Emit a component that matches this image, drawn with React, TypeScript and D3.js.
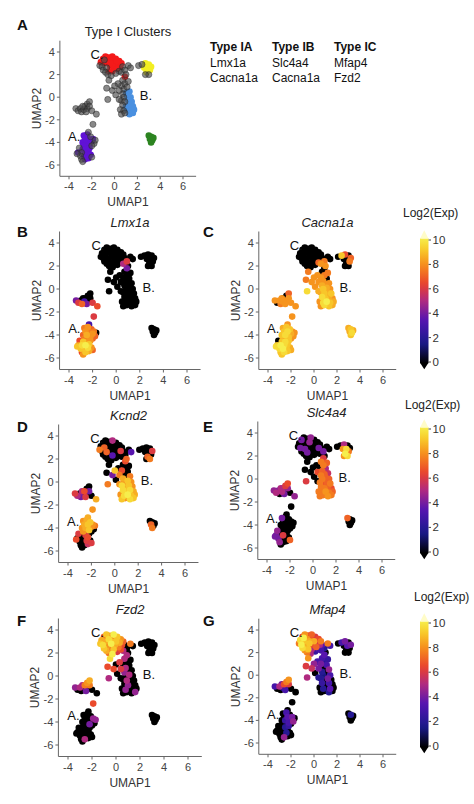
import React from "react";
import * as d3 from "d3";

// ---------- DATA ----------
// UMAP coordinates of the cells (UMAP1, UMAP2)
const cells: [number, number][] = [
  // cluster C (0-37)
  [-1.3, 2.8], [-1.2, 3.1], [-1.0, 3.4], [-0.8, 3.6], [-0.5, 3.5], [-0.2, 3.6], [0.1, 3.4], [0.4, 3.2], [0.6, 3.0], [-1.1, 2.7],
  [-0.9, 3.0], [-0.6, 3.2], [-0.3, 3.2], [0.0, 3.0], [0.3, 2.9], [0.5, 2.7], [-1.0, 2.4], [-0.7, 2.6], [-0.4, 2.8], [-0.1, 2.7],
  [0.2, 2.5], [0.4, 2.3], [-0.8, 2.2], [-0.5, 2.3], [-0.2, 2.3], [0.1, 2.1], [-0.6, 2.0], [-0.3, 1.9], [-0.9, 3.3], [0.7, 2.7],
  [0.6, 2.2], [0.9, 2.4], [1.0, 2.0], [0.9, 1.8], [1.2, 2.8], [1.4, 2.6], [-0.4, 3.0], [0.2, 3.2],
  // small cluster top right (38-48)
  [2.1, 2.8], [2.4, 2.9], [2.7, 3.0], [3.0, 2.9], [2.6, 2.6], [2.9, 2.6], [3.1, 2.4], [2.8, 2.2], [3.0, 2.0], [2.7, 2.0], [3.2, 2.7],
  // cluster B (49-78)
  [0.7, 1.5], [0.6, 1.0], [0.9, 1.2], [0.8, 0.7], [1.1, 0.9], [0.7, 0.3], [1.0, 0.4], [1.3, 0.5], [0.8, 0.0], [1.1, 0.1],
  [1.4, 0.0], [0.6, -0.3], [0.9, -0.4], [1.2, -0.3], [1.5, -0.4], [0.7, -0.7], [1.0, -0.8], [1.3, -0.7], [1.6, -0.8], [0.5, -1.1],
  [0.8, -1.2], [1.1, -1.1], [1.4, -1.2], [1.7, -1.1], [0.6, -1.5], [0.9, -1.4], [1.3, -1.5], [1.6, -1.4], [1.2, 1.4], [0.4, 0.6],
  // scattered between C and B (79-86)
  [-0.5, 1.5], [-0.7, 0.8], [-0.2, 0.6], [0.1, 0.2], [-0.6, -0.2], [0.3, 1.2], [0.0, 1.0], [0.4, -0.2],
  // left middle cluster (87-98)
  [-3.4, -1.0], [-3.2, -1.2], [-3.0, -1.0], [-2.9, -1.3], [-2.7, -1.1], [-2.6, -0.8], [-2.4, -1.0], [-2.4, -0.6], [-2.2, -0.4], [-2.2, -0.8],
  [-2.0, -1.2], [-2.8, -0.8],
  // stragglers (99-102)
  [-1.6, -1.5], [-1.9, -2.4], [-2.3, -3.1], [-2.5, -1.3],
  // cluster A (103-134)
  [-2.7, -3.4], [-2.4, -3.3], [-2.1, -3.5], [-1.9, -3.7], [-2.6, -3.7], [-2.3, -3.7], [-2.0, -3.9], [-1.8, -4.1], [-2.8, -4.0], [-2.5, -4.0],
  [-2.2, -4.2], [-2.7, -4.3], [-2.0, -4.3], [-1.7, -3.8],
  [-3.1, -4.5], [-2.8, -4.6], [-2.5, -4.6], [-3.2, -4.9], [-2.9, -4.9], [-2.6, -4.9], [-2.3, -4.8], [-3.0, -5.2], [-2.7, -5.2], [-2.4, -5.1],
  [-2.1, -5.1], [-2.9, -5.5], [-2.6, -5.5], [-2.3, -5.4], [-2.0, -5.3], [-2.8, -5.7], [-3.3, -5.0], [-2.2, -4.5],
  // small cluster bottom right (135-140)
  [3.0, -3.4], [3.2, -3.5], [3.1, -3.7], [3.3, -3.8], [3.2, -4.0], [3.4, -3.6],
];

// Panel A cluster membership (R=red, B=blue, P=purple, Y=yellow, G=green, K=other/grey)
const typeGroup: string[] = [
  "K","R","R","R","R","R","R","R","R","K","R","R","R","R","R","R","K","K","R","R","R","K","K","R","R","K","K","K","K","K","K","K","K","R","K","K","R","R",
  "K","K","Y","Y","Y","Y","Y","Y","K","K","Y",
  "K","K","K","K","K","K","B","B","K","B","B","K","K","B","B","K","B","B","B","K","K","B","B","B","K","K","B","B","K","K",
  "K","K","K","K","K","K","K","K",
  "K","K","K","K","K","K","K","K","K","K","K","K",
  "K","K","K","K",
  "P","P","K","P","P","P","P","K","P","P","P","P","K","K",
  "K","P","P","P","K","P","P","K","P","P","P","K","P","P","K","K","K","P",
  "G","G","G","G","G","G",
];

const exprLmx1a: number[] = [
  0,0,0,0,0,0,0,0,0,0, 0,0,0,0,0,0,0,0,0,0, 0,0,0,0,0,0,0,0,0,0, 5,6,0,4,0,0,0,0,
  0,0,0,0,0,0,0,0,0,0,0,
  0,0,0,0,0,0,0,0,0,0, 0,0,0,0,0,0,0,0,0,0, 0,0,0,0,0,0,0,0,0,0,
  0,0,0,0,0,0,0,0,
  4,6,0,7,3,0,0,0,0,0,6,0,
  6.5,6,3,4,
  7.5,8,7,7.5,8,7.5,8,7,7,8.5,8,7.5,7,0,
  6.5,9,8,8,9.5,10,9,9,8,9.5,8,6.5,9,8.5,7,8,9,8,
  0,0,0,0,0,0,
];

const exprCacna1a: number[] = [
  0,0,0,0,0,0,0,0,0,0, 0,0,0,0,0,0,0,0,0,0, 0,7,0,0,0,0,0,0,0,0, 8,7.5,8,0,0,0,0,0,
  0,9,6.5,0,0,0,7.5,0,0,0,7,
  0,8,7.5,8,0,8.5,8,8,9,8.5, 8,8,9,8.5,9,9.5,9,8.5,8,8, 9.5,10,9,8.5,8,9.5,9,8.5,7.5,8,
  7.5,7.5,8,8,9.5,8,8,8.5,
  8,0,8,7.5,8,0,8,0,7,8,8,8,
  8,8,8,8,
  8.5,9,9,8,9,9.5,8.5,8,9,9.5,9,8.5,8,8,
  0,9,9.5,9,10,9.5,9,9.5,10,9,8.5,9,9.5,9,8.5,9,9.5,9,
  8.5,9,8.5,9.5,9,8.5,
];

const exprKcnd2: number[] = [
  7.5,0,0,0,0,5,0,0,0,0, 7,0,0,0,0,6,0,7,0,0, 0,0,0,0,3.5,0,0,0,0,0, 0,0,7,6.5,0,3.5,0,0,
  0,0,0,0,0,0,0,7,7.5,0,6,
  0,6.5,0,0,0,8.5,0,7.5,8,9, 8,9.5,8.5,9,8,9.5,9,9.5,8.5,8, 9.5,10,9,8.5,9,8,9.5,9,0,7.5,
  0,0,4,0,7.5,0,9,8,
  6,5,0,4,0,6.5,0,0,0,4,0,5,
  8.5,8,8.5,6,
  8,8.5,9,8,8.5,9,8,0,8,8.5,9,8,0,7.5,
  6,0,6,0,0,0,6.5,0,0,6,0,0,0,5.5,6,0,6.5,0,
  0,0,7,0,7.5,0,
];

const exprSlc4a4: number[] = [
  0,0,4,0,0,4.5,0,0,0,4, 0,0,4.5,0,0,4,0,4,0,0, 0,0,0,4,0,0,0,0,0,0, 0,4,0,6,0,0,0,0,
  0,0,5,0,8,9.5,7.5,10,9.5,8,0,
  7.5,0,7.5,7,5,7.5,7,5.5,7.5,7, 7,7.5,6.5,7,7.5,7.5,7.5,7,6.5,7.5, 7.5,8,7.5,7,7.5,7.5,8,7.5,7,6.5,
  0,0,0,0,6,0,0,0,
  4.5,5,4,0,5,4,0,6,6.5,4.5,0,5,
  4.5,0,0,4,
  4,0,0,0,0,0,0,0,0,0,0,0,0,0,
  4.5,0,0,4,0,6,0,4,0,0,0,4.5,0,0,7,0,4,0,
  7,0,0,0,0,0,
];

const exprFzd2: number[] = [
  9,8.5,7,9,8,10,9,8,7,9.5, 8.5,9.5,8,9,8.5,6.5,9,8,10,8.5, 7.5,6.5,8.5,7,9,6,7.5,10,6.5,0, 5,0,0,5,7.5,0,9,8,
  0,0,0,0,0,0,0,0,0,0,0,
  5,0,0,5,0,4.5,0,0,0,5, 0,0,5,0,0,0,4.5,0,0,0, 4.5,0,0,0,0,0,0,4.5,0,6,
  9.5,6.5,6.5,0,5,6,0,0,
  4.5,0,5,0,0,7.5,0,8,8.5,7.5,0,5,
  0,6.5,0,4,
  0,0,0,4.5,0,0,0,0,0,0,4,0,0,4.5,
  0,0,0,0,0,0,0,0,0,0,0,0,5,0,0,0,0,0,
  0,0,0,0,0,0,
];

const exprMfap4: number[] = [
  7.5,9.5,6.5,8,6.5,7,6,6.5,7.5,10, 9,8,6.5,8.5,6,5,9.5,8.5,9,6.5, 7,3,8,9,5,2.5,7.5,5,10,3.5, 3,2,0,3.5,7.5,3,8.5,6,
  0,3,4,0,0,3.5,0,0,0,0,4,
  3,4,2,0,3,2,0,4.5,1.5,0, 3,2,0,4,0,2.5,0,3,0,0, 2,0,3.5,0,0,0,2,0,2.5,4,
  8,6,5.5,0,5,3,4.5,2,
  3,0,5,0,2,6.5,0,7.5,8,6,0,4,
  0,0,0,3,
  0,3,0,4,0,3.5,2,4.5,0,2.5,3,0,0,0,
  0,0,2,0,0,0,0,0,0,2,0,0,4.5,0,0,0,0,2.5,
  0,2,0,0,0,0,
];

const xTicks: number[] = [-4, -2, 0, 2, 4, 6];
const yTicks: number[] = [-6, -4, -2, 0, 2, 4];
const barTicks: number[] = [0, 2, 4, 6, 8, 10];

const clusterLabels: { text: string; x: number; y: number }[] = [
  { text: "C.", x: -1.55, y: 3.75 },
  { text: "B.", x: 2.75, y: 0.15 },
  { text: "A.", x: -3.55, y: -3.45 },
];

const tableHeaders: string[] = ["Type IA", "Type IB", "Type IC"];
const tableRow1: string[] = ["Lmx1a", "Slc4a4", "Mfap4"];
const tableRow2: string[] = ["Cacna1a", "Cacna1a", "Fzd2"];

// colour scale of Log2(Exp)
const exprStops: number[] = [0, 1.6, 3.4, 5, 6.3, 7.8, 9.2, 10, 10.8];
const exprColors: string[] = ["#000000", "#1a1a8a", "#5214b2", "#b02a80", "#e8402e", "#f68a1c", "#f8d02c", "#f6ee4c", "#fffcc8"];

const groupColors: Record<string, string> = {
  R: "#f41a1a",
  B: "#4a90e0",
  P: "#6012d6",
  Y: "#f2ee22",
  G: "#2c8420",
  K: "#4a4a4a",
};

// ---------- LAYOUT ----------
const FONT = "'Liberation Sans', Arial, Helvetica, sans-serif";

type Panel = {
  letter: string;
  lx: number;
  ly: number;
  title: string;
  italic: boolean;
  xm4: number;
  x6: number;
  y4: number;
  ym6: number;
  expr?: number[];
};

const panels: Panel[] = [
  { letter: "A", lx: 17, ly: 30, title: "Type I Clusters", italic: false, xm4: 69, x6: 183, y4: 52, ym6: 165 },
  { letter: "B", lx: 17, ly: 237, title: "Lmx1a", italic: true, xm4: 69, x6: 187, y4: 243, ym6: 358, expr: exprLmx1a },
  { letter: "C", lx: 203, ly: 237, title: "Cacna1a", italic: true, xm4: 268, x6: 383, y4: 243, ym6: 358, expr: exprCacna1a },
  { letter: "D", lx: 17, ly: 432, title: "Kcnd2", italic: true, xm4: 68, x6: 185, y4: 436, ym6: 551, expr: exprKcnd2 },
  { letter: "E", lx: 203, ly: 432, title: "Slc4a4", italic: true, xm4: 267, x6: 382, y4: 433, ym6: 548, expr: exprSlc4a4 },
  { letter: "F", lx: 17, ly: 626, title: "Fzd2", italic: true, xm4: 68, x6: 188, y4: 630, ym6: 745, expr: exprFzd2 },
  { letter: "G", lx: 203, ly: 626, title: "Mfap4", italic: true, xm4: 268, x6: 383, y4: 630, ym6: 743, expr: exprMfap4 },
];

const colorbars = [
  { x: 420, y10: 240, y0: 362, labelX: 403, labelY: 217 },
  { x: 420, y10: 429, y0: 552, labelX: 405, labelY: 409 },
  { x: 420, y10: 623, y0: 746, labelX: 414, labelY: 601 },
];

const colorScale = d3.scaleLinear<string>().domain(exprStops).range(exprColors).interpolate(d3.interpolateRgb).clamp(true);

function ScatterPanel({ p }: { p: Panel }) {
  const xs = d3.scaleLinear().domain([-4, 6]).range([p.xm4, p.x6]);
  const ys = d3.scaleLinear().domain([4, -6]).range([p.y4, p.ym6]);
  const x0 = xs(-4.8);
  const x1 = xs(7.15);
  const yTop = ys(5.0);
  const yBot = ys(-7.0);
  const midX = (x0 + x1) / 2;
  const midY = (yTop + yBot) / 2;

  let dots: React.ReactNode[] = [];
  if (p.expr) {
    const order = d3.range(cells.length).sort((a, b) => (p.expr![a] ?? 0) - (p.expr![b] ?? 0));
    dots = order.map((i) => (
      <circle key={i} cx={xs(cells[i][0])} cy={ys(cells[i][1])} r={3.3} fill={colorScale(p.expr![i] ?? 0)} />
    ));
  } else {
    const colored = d3.range(cells.length).filter((i) => typeGroup[i] !== "K");
    const grey = d3.range(cells.length).filter((i) => typeGroup[i] === "K");
    dots = [
      ...colored.map((i) => (
        <circle key={"c" + i} cx={xs(cells[i][0])} cy={ys(cells[i][1])} r={3.3} fill={groupColors[typeGroup[i]]} />
      )),
      ...grey.map((i) => (
        <circle key={"g" + i} cx={xs(cells[i][0])} cy={ys(cells[i][1])} r={3.1} fill={groupColors.K} fillOpacity={0.65} stroke="#1a1a1a" strokeOpacity={0.55} strokeWidth={0.7} />
      )),
    ];
  }

  return (
    <g fontFamily={FONT}>
      <text x={p.lx} y={p.ly} fontSize={15} fontWeight="bold" fill="#111">{p.letter}</text>
      <text x={midX} y={yTop - 5} fontSize={13} fontStyle={p.italic ? "italic" : "normal"} textAnchor="middle" fill="#222">{p.title}</text>
      {dots}
      {clusterLabels.map((c) => (
        <text key={c.text} x={xs(c.x)} y={ys(c.y)} fontSize={13} textAnchor="middle" dominantBaseline="central" fill="#111">{c.text}</text>
      ))}
      <line x1={x0} y1={yTop} x2={x0} y2={yBot} stroke="#666" strokeWidth={1} />
      <line x1={x0} y1={yBot} x2={x1} y2={yBot} stroke="#666" strokeWidth={1} />
      {yTicks.map((t) => (
        <g key={"y" + t}>
          <line x1={x0 - 3} x2={x0} y1={ys(t)} y2={ys(t)} stroke="#666" />
          <text x={x0 - 5} y={ys(t)} fontSize={11} textAnchor="end" dominantBaseline="central" fill="#444">{t}</text>
        </g>
      ))}
      {xTicks.map((t) => (
        <g key={"x" + t}>
          <line x1={xs(t)} x2={xs(t)} y1={yBot} y2={yBot + 3} stroke="#666" />
          <text x={xs(t)} y={yBot + 14} fontSize={11} textAnchor="middle" fill="#444">{t}</text>
        </g>
      ))}
      <text x={midX} y={yBot + 30} fontSize={12} textAnchor="middle" fill="#333">UMAP1</text>
      <text transform={`translate(${x0 - 23},${midY}) rotate(-90)`} fontSize={12} textAnchor="middle" dominantBaseline="central" fill="#333">UMAP2</text>
    </g>
  );
}

function ColorBar({ cb, idx }: { cb: { x: number; y10: number; y0: number; labelX: number; labelY: number }; idx: number }) {
  const w = 8.5;
  const s = d3.scaleLinear().domain([0, 10]).range([cb.y0, cb.y10]);
  const top = s(10.15);
  const bot = s(-0.1);
  const id = "cbgrad" + idx;
  return (
    <g fontFamily={FONT}>
      <defs>
        <linearGradient id={id} x1="0" y1="1" x2="0" y2="0">
          {d3.range(0, 21).map((k) => (
            <stop key={k} offset={`${(k / 20) * 100}%`} stopColor={colorScale(k / 2)} />
          ))}
        </linearGradient>
      </defs>
      <text x={cb.labelX} y={cb.labelY} fontSize={12} fill="#222">Log2(Exp)</text>
      <rect x={cb.x} y={top} width={w} height={bot - top} fill={`url(#${id})`} />
      <path d={`M${cb.x},${top + 0.5} L${cb.x + w},${top + 0.5} L${cb.x + w / 2},${top - 8} Z`} fill={colorScale(10.8)} />
      <path d={`M${cb.x},${bot - 0.5} L${cb.x + w},${bot - 0.5} L${cb.x + w / 2},${bot + 6} Z`} fill="#000" />
      {barTicks.map((t) => (
        <g key={t}>
          <line x1={cb.x + w} x2={cb.x + w + 2.5} y1={s(t)} y2={s(t)} stroke="#444" />
          <text x={cb.x + w + 4} y={s(t)} fontSize={11.5} dominantBaseline="central" fill="#333">{t}</text>
        </g>
      ))}
    </g>
  );
}

export default function App() {
  const colX = [210, 272, 334];
  return (
    <svg width={474} height={804} style={{ position: "absolute", left: 0, top: 0, background: "#fff" }}>
      <rect x={0} y={0} width={474} height={804} fill="#fff" />
      {panels.map((p) => (
        <ScatterPanel key={p.letter} p={p} />
      ))}
      <g fontFamily={FONT} fontSize={12} fill="#111">
        {tableHeaders.map((t, i) => (
          <text key={t} x={colX[i]} y={51} fontWeight="bold">{t}</text>
        ))}
        {tableRow1.map((t, i) => (
          <text key={"r1" + i} x={colX[i]} y={67}>{t}</text>
        ))}
        {tableRow2.map((t, i) => (
          <text key={"r2" + i} x={colX[i]} y={82}>{t}</text>
        ))}
      </g>
      {colorbars.map((cb, i) => (
        <ColorBar key={i} cb={cb} idx={i} />
      ))}
    </svg>
  );
}
